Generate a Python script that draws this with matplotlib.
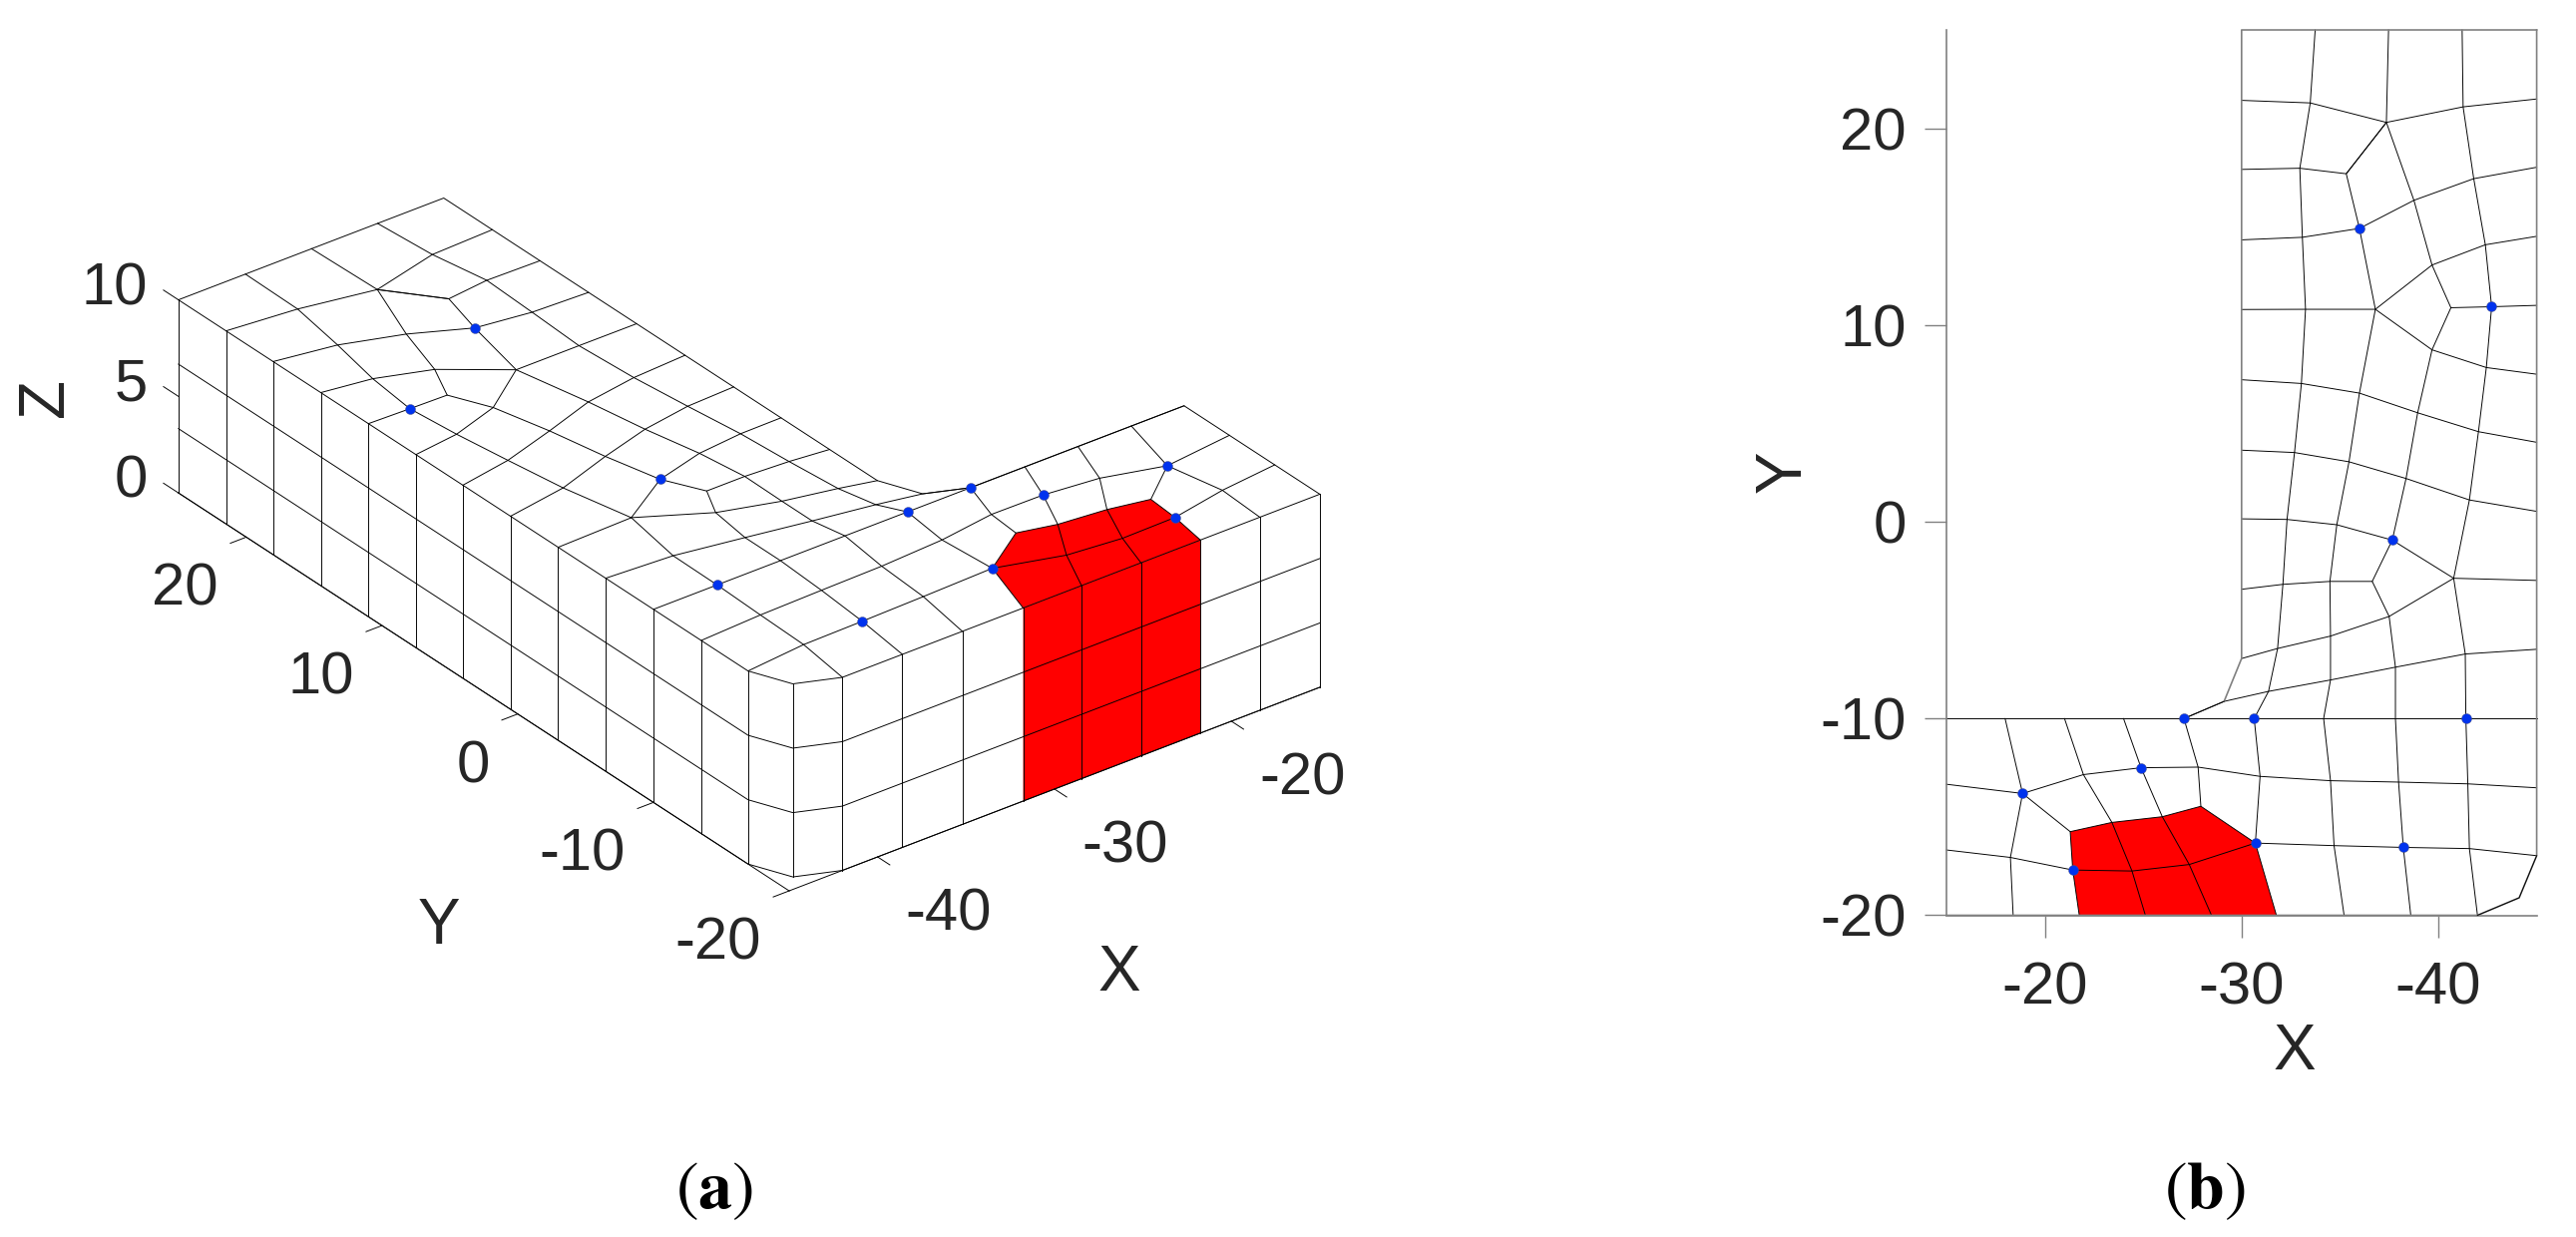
import numpy as np
import matplotlib
matplotlib.use("Agg")
import matplotlib.pyplot as plt
from mpl_toolkits.mplot3d import proj3d
from mpl_toolkits.mplot3d.art3d import Poly3DCollection

plt.rcParams['font.family'] = ['Liberation Sans', 'DejaVu Sans']
plt.rcParams['mathtext.fontset'] = 'stix'

W, H = 2582, 1240

# mesh lines of the top face, read from the plan view (x, y)
mesh_lines = [
    # across the leg
    [(-30, 21.42), (-33.49, 21.29), (-37.36, 20.30), (-41.26, 21.09), (-45, 21.49)],
    [(-30, 17.91), (-32.96, 17.97), (-35.32, 17.69), (-37.36, 20.30)],
    [(-30, 14.33), (-33.09, 14.46), (-35.99, 14.91), (-38.76, 16.34), (-41.80, 17.44), (-45, 18.02)],
    [(-30, 10.79), (-33.25, 10.80), (-36.80, 10.80), (-39.68, 13.05), (-42.39, 14.08), (-45, 14.51)],
    [(-40.64, 10.88), (-42.71, 10.93), (-45, 11.0)],
    [(-36.80, 10.80), (-39.68, 8.74), (-42.44, 7.84), (-45, 7.50)],
    [(-30, 7.22), (-33.04, 7.03), (-35.99, 6.54), (-38.95, 5.54), (-42.04, 4.58), (-45, 4.04)],
    [(-30, 3.64), (-32.69, 3.52), (-35.46, 3.05), (-38.36, 2.20), (-41.58, 1.11), (-45, 0.53)],
    [(-30, 0.15), (-32.31, 0.12), (-34.84, -0.15), (-37.66, -0.93), (-40.78, -2.87), (-45, -2.98)],
    [(-30, -3.43), (-32.10, -3.18), (-34.49, -3.03), (-36.64, -3.03)],
    [(-30, -6.95), (-31.83, -6.44), (-34.52, -5.81), (-37.50, -4.81), (-40.78, -2.87)],
    [(-27.07, -10), (-29.11, -9.13), (-31.37, -8.62), (-34.52, -8.04), (-37.82, -7.39), (-41.37, -6.72), (-45, -6.48)],
    [(-15, -10), (-17.98, -10), (-21, -10), (-24, -10), (-27.07, -10), (-30.64, -10), (-34.17, -10), (-37.82, -10), (-41.40, -10), (-45, -10)],
    [(-15, -13.34), (-18.87, -13.81), (-21.96, -12.85), (-24.89, -12.50), (-27.79, -12.47), (-30.94, -12.94), (-34.52, -13.16), (-37.98, -13.23), (-41.50, -13.32), (-45, -13.52)],
    [(-15, -16.68), (-18.25, -17.06), (-21.42, -17.70), (-24.43, -17.75), (-27.34, -17.42), (-30.70, -16.33), (-34.70, -16.46), (-38.22, -16.55), (-41.58, -16.61), (-45, -16.97)],
    [(-18.87, -13.81), (-21.29, -15.75), (-23.41, -15.28), (-25.97, -14.99), (-27.93, -14.46), (-30.70, -16.33)],
    # along the leg
    [(-33.74, 25), (-33.49, 21.29), (-32.96, 17.97), (-33.09, 14.46), (-33.25, 10.80), (-33.04, 7.03), (-32.69, 3.52), (-32.31, 0.12), (-32.10, -3.18), (-31.83, -6.44), (-31.37, -8.62), (-30.64, -10), (-30.94, -12.94), (-30.70, -16.33), (-31.77, -20)],
    [(-37.47, 25), (-37.36, 20.30)],
    [(-37.36, 20.30), (-35.32, 17.69), (-35.99, 14.91), (-36.80, 10.80), (-35.99, 6.54), (-35.46, 3.05), (-34.84, -0.15), (-34.49, -3.03), (-34.52, -5.81), (-34.52, -8.04), (-34.17, -10), (-34.52, -13.16), (-34.70, -16.46), (-35.21, -20)],
    [(-37.36, 20.30), (-38.76, 16.34), (-39.68, 13.05), (-40.64, 10.88), (-39.68, 8.74), (-38.95, 5.54), (-38.36, 2.20), (-37.66, -0.93), (-36.64, -3.03), (-37.50, -4.81), (-37.82, -7.39), (-37.82, -10), (-37.98, -13.23), (-38.22, -16.55), (-38.60, -20)],
    [(-41.21, 25), (-41.26, 21.09), (-41.80, 17.44), (-42.39, 14.08), (-42.71, 10.93), (-42.44, 7.84), (-42.04, 4.58), (-41.58, 1.11), (-40.78, -2.87), (-41.37, -6.72), (-41.40, -10), (-41.50, -13.32), (-41.58, -16.61), (-41.99, -20)],
    # foot
    [(-17.98, -10), (-18.87, -13.81), (-18.25, -17.06), (-18.39, -20)],
    [(-21, -10), (-21.96, -12.85), (-23.41, -15.28), (-24.43, -17.75), (-25.11, -20)],
    [(-24, -10), (-24.89, -12.50), (-25.97, -14.99), (-27.34, -17.42), (-28.47, -20)],
    [(-27.07, -10), (-27.79, -12.47), (-27.93, -14.46)],
    [(-21.29, -15.75), (-21.42, -17.70), (-21.75, -20)],
]

# outline: free side of the L, then the walls seen in the 3D view
inner_edge = [(-15, -20), (-15, -10), (-27.07, -10), (-29.11, -9.13), (-30, -6.95), (-30, 25), (-45, 25)]
wall_x = [-45, -45, -45, -45, -45, -45, -45, -45, -45, -45, -45, -45, -45, -44.11, -41.99,
          -38.60, -35.21, -31.77, -28.47, -25.11, -21.75, -18.39, -15]
wall_y = [25, 21.49, 18.02, 14.51, 11.0, 7.50, 4.04, 0.53, -2.98, -6.48, -10, -13.52, -16.97, -19.11, -20,
          -20, -20, -20, -20, -20, -20, -20, -20]
z_levels = [0, 3.33, 6.67, 10]

# red region
red_top = [(-21.29, -15.75), (-23.41, -15.28), (-25.97, -14.99), (-27.93, -14.46), (-30.70, -16.33),
           (-31.77, -20), (-21.75, -20), (-21.42, -17.70)]
red_wall_x = [-31.77, -21.75]

# singular nodes
blue_x = [-35.99, -42.71, -37.66, -27.07, -30.64, -41.40, -24.89, -18.87, -30.70, -38.22, -21.42]
blue_y = [14.91, 10.93, -0.93, -10, -10, -10, -12.50, -13.81, -16.33, -16.55, -17.70]

x_ticks_a = [-20, -30, -40]
y_ticks_a = [20, 10, 0, -10, -20]
z_ticks_a = [0, 5, 10]
x_ticks_b = [-20, -30, -40]
y_ticks_b = [20, 10, 0, -10, -20]

TEXT = '#262626'
GRAY = '#808080'
BLUE = '#0033ee'
RED = '#ff0000'
LW = 0.68
TICK_SIZE = 43

fig = plt.figure(figsize=(W / 100, H / 100), dpi=100)

# ---------- (a) 3D view ----------
ax = fig.add_axes([0.02, 0.0, 1240 / W, 1.0], projection='3d', computed_zorder=False)
ax.set_proj_type('ortho')
ax.view_init(elev=30, azim=-127.5)
ax.set_xlim(-45, -15)
ax.set_ylim(-20, 25)
ax.set_zlim(0, 10)
ax.set_box_aspect((30, 45, 10), zoom=1.0)
ax.set_axis_off()
ax.patch.set_visible(False)


def to_px(x, y, z):
    xs, ys, _ = proj3d.proj_transform(x, y, z, ax.get_proj())
    return ax.transData.transform((xs, ys))


def tick_label(x, y, z, dx, dy, text, ha):
    # label placed dx, dy pixels from its tick in the projected view
    px, py = to_px(x, y, z)
    fig.text((px + dx) / W, (py - dy) / H, text, fontsize=TICK_SIZE, color=TEXT, ha=ha, va='center')


# fit the projection to the reference: 17.73 px per x unit, corner at (791, 893)
ax.apply_aspect()
scale = np.linalg.norm(to_px(-15, -20, 0) - to_px(-45, -20, 0)) / 30
ax.set_box_aspect((30, 45, 10), zoom=np.hypot(17.73, 6.8) / scale)
ax.apply_aspect()
shift = np.array([791, H - 893]) - to_px(-45, -20, 0)
pos = ax.get_position(original=True)
ax.set_position([pos.x0 + shift[0] / W, pos.y0 + shift[1] / H, pos.width, pos.height])
ax.apply_aspect()

top_verts = [[(x, y, 10) for x, y in red_top]]
wall_verts = [[(red_wall_x[0], -20, 0), (red_wall_x[1], -20, 0), (red_wall_x[1], -20, 10), (red_wall_x[0], -20, 10)]]
ax.add_collection3d(Poly3DCollection(top_verts + wall_verts, facecolors=RED, edgecolors='none',
                                     clip_on=False, zorder=1), autolim=False)

for line in mesh_lines:
    xs, ys = zip(*line)
    ax.plot(xs, ys, [10] * len(xs), color='k', lw=LW, clip_on=False, zorder=2)
xs, ys = zip(*inner_edge)
ax.plot(xs, ys, [10] * len(xs), color='k', lw=LW, clip_on=False, zorder=2)
for z in z_levels:
    ax.plot(wall_x, wall_y, [z] * len(wall_x), color='k', lw=LW, clip_on=False, zorder=2)
for x, y in zip(wall_x, wall_y):
    ax.plot([x, x], [y, y], [0, 10], color='k', lw=LW, clip_on=False, zorder=2)

# axis lines and ticks of the 3D box
ax.plot([-45, -45], [-20, 25], [0, 0], color='k', lw=LW, clip_on=False, zorder=2)
ax.plot([-45, -15], [-20, -20], [0, 0], color='k', lw=LW, clip_on=False, zorder=2)
for x in x_ticks_a:
    ax.plot([x, x], [-20, -20.9], [0, 0], color='k', lw=LW, clip_on=False, zorder=2)
    tick_label(x, -20, 0, 71, 58, str(x), 'center')
for y in y_ticks_a:
    ax.plot([-45, -45.9], [y, y], [0, 0], color='k', lw=LW, clip_on=False, zorder=2)
    tick_label(-45, y, 0, -28, 53, str(y), 'right')
for z in z_ticks_a:
    ax.plot([-45, -45], [25, 26.1], [z, z], color='k', lw=LW, clip_on=False, zorder=2)
    tick_label(-45, 25, z, -31, -11, str(z), 'right')

ax.plot(blue_x, blue_y, [10] * len(blue_x), ls='none', marker='o', ms=7.2, mfc=BLUE, mec='#555577', mew=0.3,
        clip_on=False, zorder=3)

fig.text(46 / W, 1 - 399 / H, 'Z', fontsize=46, color=TEXT, rotation=90, ha='center', va='center')
fig.text(440 / W, 1 - 929 / H, 'Y', fontsize=46, color=TEXT, ha='center', va='center')
fig.text(1122 / W, 1 - 976 / H, 'X', fontsize=46, color=TEXT, ha='center', va='center')

# ---------- (b) plan view ----------
bx = fig.add_axes([1951 / W, 1 - 917.5 / H, (2542.6 - 1951) / W, (917.5 - 30) / H])
bx.set_xlim(-15, -45)
bx.set_ylim(-20, 25)
for side in ['top', 'right']:
    bx.spines[side].set_visible(False)
for side in ['left', 'bottom']:
    bx.spines[side].set_color(GRAY)
    bx.spines[side].set_linewidth(1.2)

bx.fill(*zip(*red_top), color=RED, lw=0, zorder=1)
for line in mesh_lines:
    xs, ys = zip(*line)
    bx.plot(xs, ys, color='k', lw=LW, zorder=2, clip_on=False)
xs, ys = zip(*inner_edge)
bx.plot(xs[3:], ys[3:], color=GRAY, lw=1.2, zorder=2, clip_on=False)
bx.plot(xs[2:4], ys[2:4], color='k', lw=LW, zorder=2, clip_on=False)
bx.plot(wall_x, wall_y, color=GRAY, lw=1.2, zorder=2, clip_on=False)
bx.plot(wall_x[12:15], wall_y[12:15], color='k', lw=LW, zorder=3, clip_on=False)
bx.plot(blue_x, blue_y, ls='none', marker='o', ms=7.2, mfc=BLUE, mec='#555577', mew=0.3, zorder=4, clip_on=False)

bx.set_xticks(x_ticks_b, [str(v) for v in x_ticks_b])
bx.set_yticks(y_ticks_b, [str(v) for v in y_ticks_b])
bx.tick_params(length=16, width=1.0, color=GRAY, labelsize=TICK_SIZE, labelcolor=TEXT, direction='out')
bx.tick_params(axis='x', pad=17)
bx.tick_params(axis='y', pad=13)

fig.text(2300 / W, 1 - 1055 / H, 'X', fontsize=46, color=TEXT, ha='center', va='center')
fig.text(1788 / W, 1 - 473 / H, 'Y', fontsize=46, color=TEXT, rotation=90, ha='center', va='center')

# ---------- panel labels ----------
fig.text(716 / W, 1 - 1193 / H, r'$(\mathbf{a})$', fontsize=49, color='k', ha='center', va='center')
fig.text(2210 / W, 1 - 1193 / H, r'$(\mathbf{b})$', fontsize=49, color='k', ha='center', va='center')

fig.savefig('out.png', dpi=100)
